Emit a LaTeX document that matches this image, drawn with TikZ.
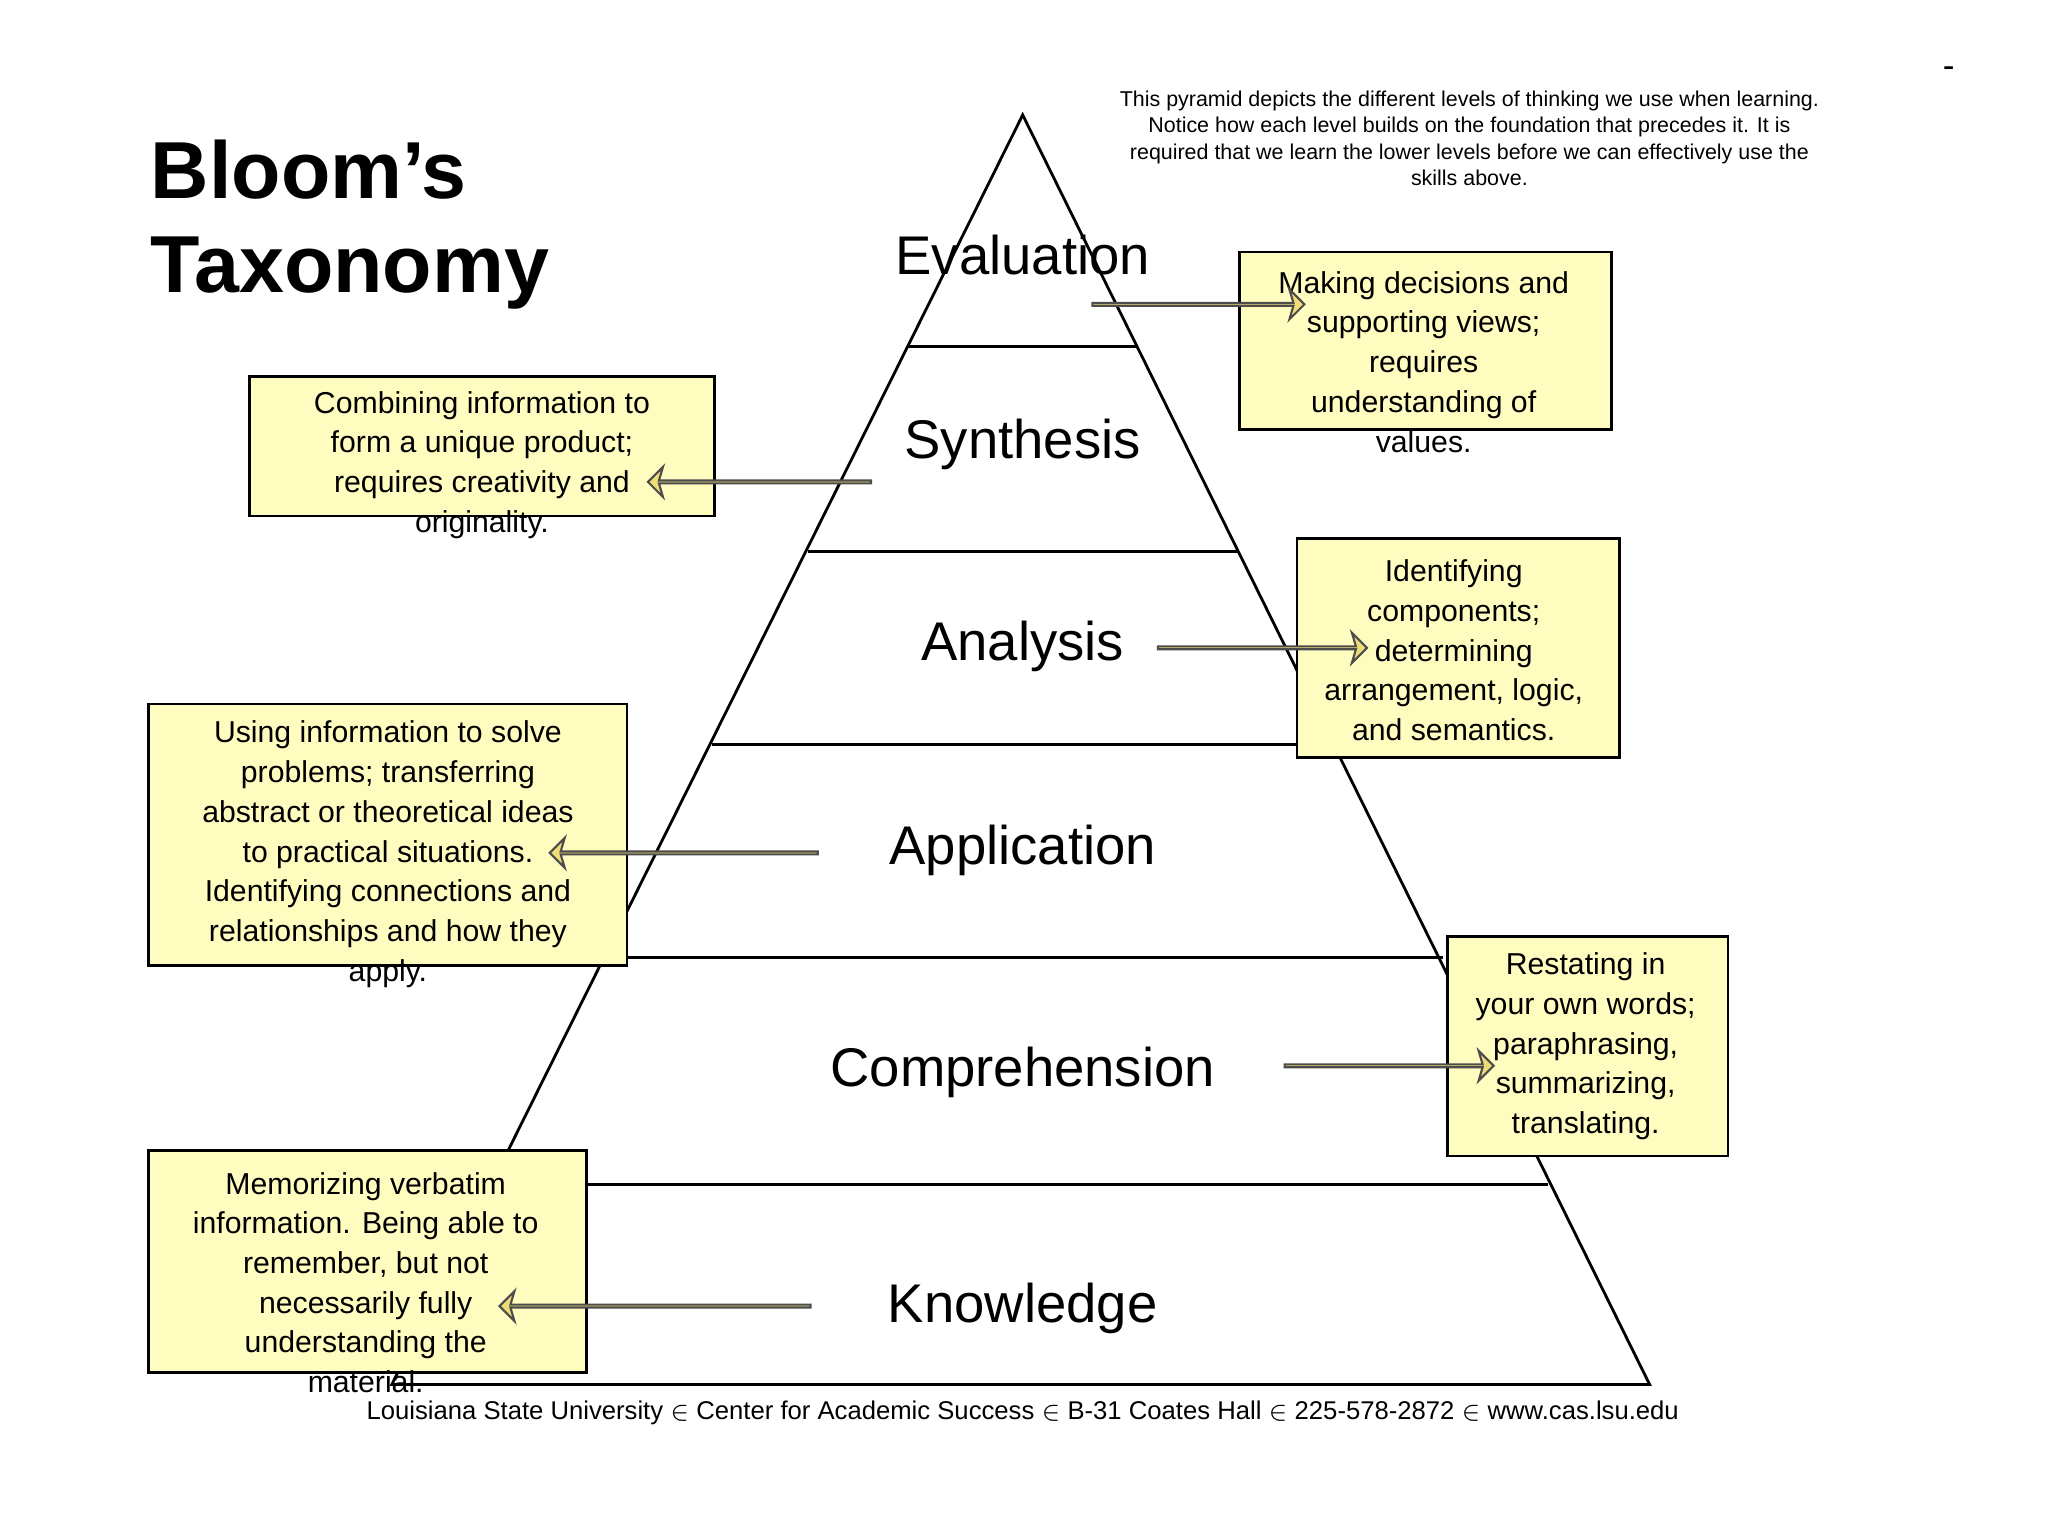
\documentclass[tikz,border=0pt]{standalone}
\usepackage{fontspec}
\setmainfont{Liberation Sans}
\usetikzlibrary{shapes.arrows}
\begin{document}
\begin{tikzpicture}[x=0.013061cm,y=-0.013061cm,
  lvl/.style={font=\fontsize{15.5pt}{18pt}\selectfont},
  dbox/.style={draw=black,fill=yellow!25,line width=0.8pt},
  dtext/.style={align=center,font=\fontsize{8.6pt}{11.3pt}\selectfont},
  barrow/.style={single arrow,draw=black!70,fill=brown!45!yellow!60!white,line width=0.6pt,
     minimum width=22\pgflinewidth*0+0.3cm,single arrow head extend=0.1cm,single arrow head indent=0.04cm,inner sep=0pt,minimum height=#1}]
\useasboundingbox (0,0) rectangle (1568,1176);
\fill[white] (0,0) rectangle (1568,1176);
% pyramid
\coordinate (apex) at (783,88);
\coordinate (bl) at (300,1060);
\coordinate (br) at (1263,1060);
\draw[line width=0.8pt] (apex) -- (bl) -- (br) -- cycle;
\foreach \y/\xl/\xr in {265/695/871, 422/619/948, 570/545/1024, 733/480/1105, 907/449/1185}
  \draw[line width=0.8pt] (\xl,\y) -- (\xr,\y);
% title
\node[anchor=west,align=left,font=\fontsize{23pt}{27pt}\selectfont\bfseries] (title) at (106,172) {Bloom’s\\Taxonomy};
\node[align=center,font=\fontsize{6.1pt}{7.5pt}\selectfont] (note) at (1125,106) {This pyramid depicts the different levels of thinking we use when learning.\\Notice how  each level builds on the foundation that precedes it.  It is\\required that we learn the lower levels before we can effectively use the\\skills above.};
\node (dash) at (1492,55) {-};
% levels
\node[lvl] (ev) at (783,195) {Evaluation};
\node[lvl] (sy) at (783,340) {Synthesis};
\node[lvl] (an) at (783,495) {Analysis};
\node[lvl] (ap) at (783,651) {Application};
\node[lvl] (co) at (783,821) {Comprehension};
\node[lvl] (kn) at (783,1002) {Knowledge};
% boxes
\draw[dbox] (949,193) rectangle (1234,329);
\draw[dbox] (191,288) rectangle (547,395);
\draw[dbox] (993,412) rectangle (1240,580);
\draw[dbox] (114,539) rectangle (480,739);
\draw[dbox] (1108,717) rectangle (1323,885);
\draw[dbox] (114,881) rectangle (449,1051);
\node[dtext] (tev) at (1090,277) {Making decisions and\\supporting views;\\requires\\understanding of\\values.};
\node[dtext] (tsy) at (369,356) {Combining information to\\form a unique product;\\requires creativity and\\originality.};
\node[dtext] (tan) at (1113,498) {Identifying\\components;\\determining\\arrangement, logic,\\and semantics.};
\node[dtext] (tap) at (297,654) {Using information to solve\\problems; transferring\\abstract or theoretical ideas\\to practical situations.\\Identifying connections and\\relationships and how they\\apply.};
\node[dtext] (tco) at (1214,801) {Restating in\\your own words;\\paraphrasing,\\summarizing,\\translating.};
\node[dtext] (tkn) at (280,982) {Memorizing verbatim\\information. Being able to\\remember, but not\\necessarily fully\\understanding the\\material.};
% arrows
\node[barrow=2.12cm] (a1) at (917,233) {};
\node[barrow=2.23cm,shape border rotate=180] (a2) at (582,369) {};
\node[barrow=2.09cm] (a3) at (966,496) {};
\node[barrow=2.68cm,shape border rotate=180] (a4) at (524,653) {};
\node[barrow=2.09cm] (a5) at (1063,816) {};
\node[barrow=3.11cm,shape border rotate=180] (a6) at (502,1000) {};
% footer
\node[font=\fontsize{7.3pt}{9pt}\selectfont] (foot) at (783,1082) {Louisiana State University $\in$ Center for Academic Success $\in$ B-31 Coates Hall $\in$ 225-578-2872 $\in$ www.cas.lsu.edu};
\end{tikzpicture}
\end{document}
